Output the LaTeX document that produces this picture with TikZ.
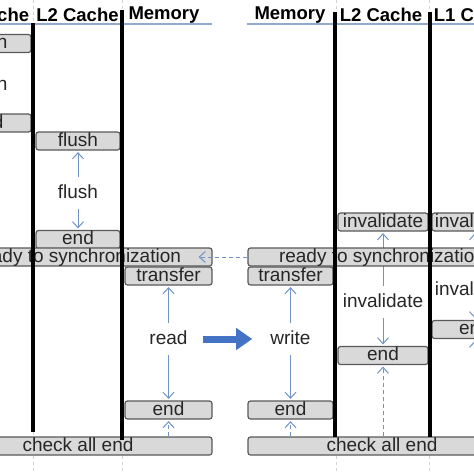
\documentclass[tikz,border=0pt]{standalone}
\usepackage{fontspec}
\setmainfont{Liberation Sans}
\usetikzlibrary{arrows.meta, calc, positioning}

\definecolor{fluxo}{RGB}{112,146,198}
\definecolor{setagrande}{RGB}{68,114,196}
\definecolor{caixa}{RGB}{217,217,217}
\definecolor{borda}{RGB}{89,89,89}
\definecolor{sublinha}{RGB}{143,170,204}
\definecolor{texto}{RGB}{38,38,38}

\begin{document}
\begin{tikzpicture}[
    x=1pt, y=-1pt,
    etapa/.style={draw=borda, line width=1.2pt, fill=caixa, rounded corners=2.5pt,
        inner sep=0pt, minimum height=18pt, text height=14pt, text depth=3.5pt,
        text=texto, font=\fontsize{19}{21}\selectfont},
    rotulo/.style={inner sep=0pt, text height=14pt, text depth=3.5pt,
        text=texto, font=\fontsize{19}{21}\selectfont},
    cabeca/.style={inner sep=0pt, font=\bfseries\fontsize{18.5}{20}\selectfont},
    seta/.style={fluxo, line width=1pt, -{Straight Barb[length=6pt, width=11pt]},
        shorten <=7pt, shorten >=1.5pt},
    setatrac/.style={seta, dash pattern=on 4pt off 3pt, shorten <=0pt},
    coluna/.style={line width=4.5pt},
    guia/.style={gray!35, line width=0.8pt, dash pattern=on 3pt off 3pt}
]

    % 1. Área visível (a figura original está recortada)
    \useasboundingbox (0,0) rectangle (474,474);
    \clip (0,0) rectangle (474,474);

    % 2. Guias pontilhadas das colunas e sublinhado dos títulos
    \foreach \x in {33,122,336,429}
        \draw[guia] (\x,0) -- (\x,474);
    \draw[sublinha, line width=1.3pt] (-60,24) -- (212,24);
    \draw[sublinha, line width=1.3pt] (247,24) -- (520,24);

    % 3. Títulos
    \node[cabeca] (tL1) at (-12,15) {L1 Cache};
    \node[cabeca] (tL2) at (77.5,15) {L2 Cache};
    \node[cabeca] (tMemL) at (164,15) {Memory};
    \node[cabeca] (tMemR) at (290,15) {Memory};
    \node[cabeca] (tR2) at (381,15) {L2 Cache};
    \node[cabeca] (tR1) at (475,15) {L1 Cache};

    % 4. Lado esquerdo: flush e leitura
    \node[etapa, minimum width=87pt] (flushL1) at (-12.5,43.5) {flush};
    \node[rotulo] (lblFlushL1) at (-12.5,85) {flush};
    \node[etapa, minimum width=87pt] (endL1) at (-12.5,123) {end};

    \node[etapa, minimum width=84pt] (flushL2) at (78,141) {flush};
    \node[rotulo] (lblFlushL2) at (78,193) {flush};
    \node[etapa, minimum width=84pt] (endL2) at (78,239.5) {end};

    \node[etapa, minimum width=87pt] (transL) at (168.5,276) {transfer};
    \node[rotulo] (read) at (168.5,339) {read};
    \node[etapa, minimum width=87pt] (endMemL) at (168.5,410) {end};

    % 5. Lado direito: escrita e invalidação
    \node[etapa, minimum width=85pt] (transR) at (290.5,276) {transfer};
    \node[rotulo] (write) at (290.5,339) {write};
    \node[etapa, minimum width=85pt] (endMemR) at (290.5,410) {end};

    \node[etapa, minimum width=90pt] (invR2) at (383,222) {invalidate};
    \node[rotulo] (lblInvR2) at (383,302) {invalidate};
    \node[etapa, minimum width=90pt] (endR2) at (383,355.5) {end};

    \node[etapa, minimum width=86pt] (invR1) at (475,222) {invalidate};
    \node[rotulo] (lblInvR1) at (475,290) {invalidate};
    \node[etapa, minimum width=86pt] (endR1) at (475,329.5) {end};

    % 6. Setas entre rótulos e etapas
    \draw[seta] (lblFlushL2) -- (flushL2);
    \draw[seta] (lblFlushL2) -- (endL2);
    \draw[seta] (read) -- (transL);
    \draw[seta] (read) -- (endMemL);
    \draw[seta] (write) -- (transR);
    \draw[seta] (write) -- (endMemR);
    \draw[seta] (lblInvR2) -- (invR2);
    \draw[seta] (lblInvR2) -- (endR2);
    \draw[seta] (lblInvR1) -- (invR1);
    \draw[seta] (lblInvR1) -- (endR1);

    % 7. Caixas largas (por cima das setas)
    \node[etapa, minimum width=268pt] (readyL) at (78,257) {ready to synchronization};
    \node[etapa, minimum width=268pt] (readyR) at (382,257) {ready to synchronization};
    \node[etapa, minimum width=268pt] (checkL) at (78,446) {check all end};
    \node[etapa, minimum width=268pt] (checkR) at (382,446) {check all end};

    % 8. Setas tracejadas
    \draw[setatrac, shorten >=-14pt] (readyR.west) -- (readyL.east);
    \draw[setatrac] (endMemL |- checkL.north) -- (endMemL);
    \draw[setatrac] (endMemR |- checkR.north) -- (endMemR);
    \draw[setatrac] (endR2 |- checkR.north) -- (endR2);
    \draw[setatrac] (endR1 |- checkR.north) -- (endR1);

    % 9. Seta grande: read -> write
    \draw[setagrande, line width=7pt, -{Triangle[length=16pt, width=21pt]},
        shorten <=15pt, shorten >=18pt] (read) -- (write);

    % 10. Linhas grossas das colunas
    \draw[coluna] (33,23) -- (33,432);
    \draw[coluna] (122,10) -- (122,440);
    \draw[coluna] (335,12) -- (335,437);
    \draw[coluna] (430,12) -- (430,437);

\end{tikzpicture}
\end{document}
